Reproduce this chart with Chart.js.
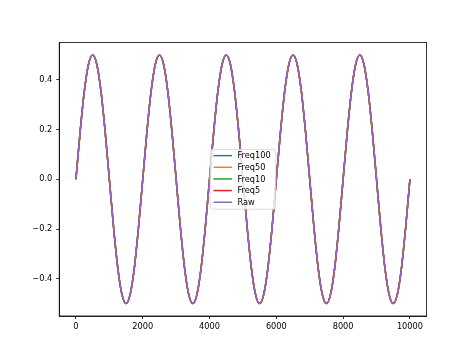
<!DOCTYPE html>
<html>
<head>
<meta charset="utf-8">
<script src="https://cdn.jsdelivr.net/npm/chart.js@4"></script>
<style>
  html, body { margin: 0; padding: 0; background: #fff; }
  canvas { display: block; }
</style>
</head>
<body>
<canvas id="signalChart" width="474" height="355"></canvas>
<script>
// x positions of the samples (every 125 units)
const sampleX = [];
for (let i = 0; i <= 80; i++) sampleX.push(i * 125);

// values; one period spans 2000 units
const rawValues = [
  0, 0.191, 0.354, 0.462, 0.5, 0.462, 0.354, 0.191, 0, -0.191, -0.354, -0.462, -0.5, -0.462, -0.354, -0.191,
  0, 0.191, 0.354, 0.462, 0.5, 0.462, 0.354, 0.191, 0, -0.191, -0.354, -0.462, -0.5, -0.462, -0.354, -0.191,
  0, 0.191, 0.354, 0.462, 0.5, 0.462, 0.354, 0.191, 0, -0.191, -0.354, -0.462, -0.5, -0.462, -0.354, -0.191,
  0, 0.191, 0.354, 0.462, 0.5, 0.462, 0.354, 0.191, 0, -0.191, -0.354, -0.462, -0.5, -0.462, -0.354, -0.191,
  0, 0.191, 0.354, 0.462, 0.5, 0.462, 0.354, 0.191, 0, -0.191, -0.354, -0.462, -0.5, -0.462, -0.354, -0.191,
  0
];
// the filtered series lie exactly on top of the raw one
const freq100Values = rawValues.slice();
const freq50Values = rawValues.slice();
const freq10Values = rawValues.slice();
const freq5Values = rawValues.slice();

const seriesNames = ['Freq100', 'Freq50', 'Freq10', 'Freq5', 'Raw'];
const seriesValues = [freq100Values, freq50Values, freq10Values, freq5Values, rawValues];
const seriesColors = ['#1f77b4', '#ff7f0e', '#2ca02c', '#d62728', '#9467bd'];

const xTicks = [0, 2000, 4000, 6000, 8000, 10000];
const yTicks = [-0.4, -0.2, 0.0, 0.2, 0.4];

const FONT = { family: 'DejaVu Sans', size: 8.2 };

const datasets = seriesNames.map((name, i) => ({
  label: name,
  data: sampleX.map((x, j) => ({ x: x, y: seriesValues[i][j] })),
  borderColor: seriesColors[i],
  backgroundColor: seriesColors[i],
  borderWidth: 1.5,
  pointRadius: 0,
  cubicInterpolationMode: 'monotone',
  fill: false,
  order: seriesNames.length - 1 - i // Raw ends up on top
}));

// frame around the plot + legend box in the middle
const framePlugin = {
  id: 'framePlugin',
  afterDraw(chart) {
    const ctx = chart.ctx;
    const a = chart.chartArea;
    ctx.save();
    ctx.strokeStyle = '#000';
    ctx.lineWidth = 0.8;
    ctx.strokeRect(a.left, a.top, a.right - a.left, a.bottom - a.top);

    ctx.font = FONT.size + 'px "' + FONT.family + '"';
    let maxW = 0;
    seriesNames.forEach(n => { maxW = Math.max(maxW, ctx.measureText(n).width); });
    const rowH = 11.65;
    const handleLen = 18.4;
    const boxW = 3.3 + handleLen + 5.6 + maxW + 5;
    const boxH = rowH * seriesNames.length + 1.5;
    const cx = (a.left + a.right) / 2;
    const cy = (a.top + a.bottom) / 2;
    const bx = cx - boxW / 2;
    const by = cy - boxH / 2;

    ctx.beginPath();
    ctx.roundRect(bx, by, boxW, boxH, 2);
    ctx.fillStyle = 'rgba(255,255,255,0.8)';
    ctx.fill();
    ctx.strokeStyle = '#d0d0d0';
    ctx.lineWidth = 0.7;
    ctx.stroke();

    ctx.textBaseline = 'middle';
    ctx.textAlign = 'left';
    seriesNames.forEach((n, i) => {
      const ry = by + 6.2 + i * rowH;
      ctx.beginPath();
      ctx.moveTo(bx + 3.3, ry);
      ctx.lineTo(bx + 3.3 + handleLen, ry);
      ctx.strokeStyle = seriesColors[i];
      ctx.lineWidth = 1.5;
      ctx.stroke();
      ctx.fillStyle = '#000';
      ctx.fillText(n, bx + 3.3 + handleLen + 5.6, ry + 0.5);
    });
    ctx.restore();
  }
};

const ctx = document.getElementById('signalChart').getContext('2d');
const signalChart = new Chart(ctx, {
  type: 'line',
  data: { datasets: datasets },
  options: {
    responsive: false,
    animation: false,
    devicePixelRatio: 1,
    layout: { padding: { top: 42.6, right: 47.4, left: 0, bottom: 0 } },
    plugins: {
      legend: { display: false },
      tooltip: { enabled: false }
    },
    scales: {
      x: {
        type: 'linear',
        min: -500,
        max: 10500,
        afterFit: scale => { scale.height = 39; },
        afterBuildTicks: scale => { scale.ticks = xTicks.map(v => ({ value: v })); },
        grid: { drawOnChartArea: false, drawTicks: true, tickLength: 3, tickColor: '#000', tickWidth: 0.8 },
        border: { display: true, color: '#000', width: 0.8 },
        ticks: {
          color: '#000',
          font: FONT,
          padding: 3,
          maxRotation: 0,
          autoSkip: false,
          callback: v => String(v)
        }
      },
      y: {
        type: 'linear',
        min: -0.55,
        max: 0.55,
        afterFit: scale => { scale.width = 59.25; },
        afterBuildTicks: scale => { scale.ticks = yTicks.map(v => ({ value: v })); },
        grid: { drawOnChartArea: false, drawTicks: true, tickLength: 3, tickColor: '#000', tickWidth: 0.8 },
        border: { display: true, color: '#000', width: 0.8 },
        ticks: {
          color: '#000',
          font: FONT,
          padding: 4,
          autoSkip: false,
          callback: v => v.toFixed(1).replace('-', '\u2212')
        }
      }
    }
  },
  plugins: [framePlugin]
});
</script>
</body>
</html>
